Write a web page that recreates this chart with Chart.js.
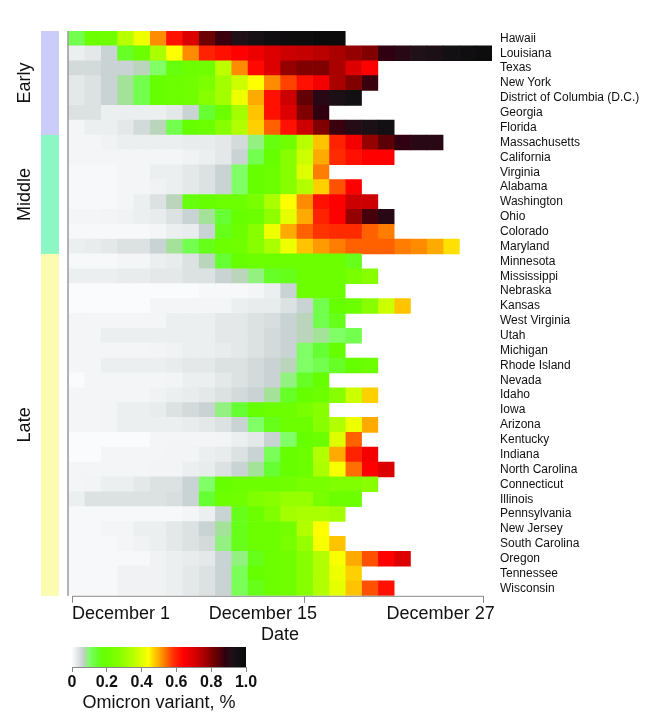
<!DOCTYPE html>
<html lang="en">
<head>
<meta charset="UTF-8">
<title>Omicron variant by state</title>
<script src="https://cdn.jsdelivr.net/npm/chart.js"></script>
<style>
  body { margin: 0; background: #fff; }
  #mapa { position: absolute; left: 0; top: 0; }
  #barra { position: absolute; left: 0; top: 640px; }
</style>
</head>
<body>
<canvas id="mapa" width="654" height="646"></canvas>
<canvas id="barra" width="300" height="84"></canvas>

<script>
// states, top to bottom
const states = ['Hawaii', 'Louisiana', 'Texas', 'New York', 'District of Columbia (D.C.)', 'Georgia', 'Florida',
  'Massachusetts', 'California', 'Virginia', 'Alabama', 'Washington', 'Ohio', 'Colorado', 'Maryland',
  'Minnesota', 'Mississippi', 'Nebraska', 'Kansas', 'West Virginia', 'Utah', 'Michigan', 'Rhode Island',
  'Nevada', 'Idaho', 'Iowa', 'Arizona', 'Kentucky', 'Indiana', 'North Carolina', 'Connecticut', 'Illinois',
  'Pennsylvania', 'New Jersey', 'South Carolina', 'Oregon', 'Tennessee', 'Wisconsin'];

const groups = ['Early', 'Middle', 'Late'];
const groupSizes = [7, 8, 23];

// omicron share per day, one row per state
const earlyRows = [
  [0.12, 0.2, 0.22, 0.35, 0.42, 0.52, 0.62, 0.7, 0.82, 0.87, 0.92, 0.94, 0.96, 0.97, 0.97, 0.98, 0.98],
  [0.02, 0.03, 0.06, 0.15, 0.2, 0.33, 0.44, 0.52, 0.6, 0.62, 0.64, 0.67, 0.7, 0.72, 0.73, 0.74, 0.76, 0.78, 0.8, 0.88, 0.9, 0.92, 0.93, 0.95, 0.96, 0.97],
  [0.05, 0.05, 0.06, 0.06, 0.07, 0.1, 0.17, 0.2, 0.22, 0.36, 0.52, 0.63, 0.7, 0.78, 0.8, 0.8, 0.76, 0.7, 0.64],
  [0.03, 0.04, 0.06, 0.08, 0.12, 0.18, 0.2, 0.22, 0.25, 0.32, 0.38, 0.44, 0.52, 0.57, 0.62, 0.66, 0.76, 0.8, 0.87],
  [0.03, 0.04, 0.06, 0.08, 0.12, 0.18, 0.2, 0.22, 0.28, 0.32, 0.42, 0.5, 0.62, 0.72, 0.83, 0.9, 0.93, 0.95],
  [0.04, 0.04, 0.02, 0.02, 0.02, 0.02, 0.03, 0.06, 0.14, 0.2, 0.32, 0.48, 0.62, 0.7, 0.8, 0.88],
  [0.01, 0.02, 0.02, 0.03, 0.05, 0.07, 0.12, 0.18, 0.2, 0.28, 0.34, 0.47, 0.55, 0.62, 0.72, 0.8, 0.87, 0.91, 0.93, 0.95]
];
const middleRows = [
  [0.01, 0.01, 0.015, 0.02, 0.02, 0.02, 0.02, 0.025, 0.025, 0.03, 0.05, 0.09, 0.17, 0.22, 0.35, 0.48, 0.6, 0.66, 0.78, 0.84, 0.88, 0.9, 0.9],
  [0.01, 0.01, 0.01, 0.01, 0.01, 0.01, 0.01, 0.015, 0.02, 0.03, 0.06, 0.12, 0.18, 0.28, 0.38, 0.5, 0.59, 0.62, 0.64, 0.64],
  [0.005, 0.005, 0.005, 0.01, 0.01, 0.02, 0.02, 0.03, 0.04, 0.06, 0.1, 0.18, 0.2, 0.28, 0.4, 0.53],
  [0.005, 0.005, 0.005, 0.01, 0.01, 0.015, 0.02, 0.03, 0.04, 0.06, 0.1, 0.18, 0.2, 0.28, 0.34, 0.47, 0.56, 0.64],
  [0.005, 0.005, 0.005, 0.01, 0.02, 0.04, 0.07, 0.17, 0.18, 0.2, 0.2, 0.24, 0.33, 0.44, 0.52, 0.62, 0.64, 0.72, 0.72],
  [0.01, 0.01, 0.012, 0.015, 0.02, 0.025, 0.04, 0.06, 0.08, 0.14, 0.18, 0.2, 0.29, 0.41, 0.5, 0.6, 0.64, 0.78, 0.86, 0.9],
  [0.005, 0.005, 0.005, 0.005, 0.005, 0.01, 0.02, 0.025, 0.06, 0.16, 0.2, 0.28, 0.42, 0.5, 0.55, 0.58, 0.59, 0.59, 0.55, 0.53],
  [0.02, 0.025, 0.03, 0.04, 0.04, 0.06, 0.08, 0.12, 0.16, 0.2, 0.22, 0.28, 0.33, 0.42, 0.48, 0.51, 0.53, 0.55, 0.55, 0.55, 0.53, 0.52, 0.5, 0.46]
];
const lateRows = [
  [0.005, 0.005, 0.005, 0.01, 0.01, 0.02, 0.025, 0.04, 0.07, 0.14, 0.18, 0.2, 0.2, 0.2, 0.2, 0.2, 0.2, 0.16],
  [0.02, 0.02, 0.02, 0.025, 0.025, 0.03, 0.03, 0.04, 0.04, 0.06, 0.07, 0.09, 0.15, 0.16, 0.2, 0.2, 0.2, 0.24, 0.28],
  [0, 0, 0, 0, 0, 0, 0, 0, 0.005, 0.005, 0.005, 0.01, 0.02, 0.06, 0.2, 0.2, 0.2],
  [0, 0, 0, 0, 0, 0.01, 0.01, 0.01, 0.01, 0.01, 0.02, 0.025, 0.025, 0.04, 0.06, 0.12, 0.18, 0.2, 0.28, 0.38, 0.48],
  [0.01, 0.01, 0.01, 0.01, 0.01, 0.01, 0.02, 0.02, 0.02, 0.03, 0.03, 0.04, 0.045, 0.06, 0.07, 0.12, 0.16],
  [0.01, 0.01, 0.02, 0.02, 0.02, 0.02, 0.02, 0.02, 0.02, 0.03, 0.03, 0.04, 0.05, 0.06, 0.07, 0.08, 0.1, 0.12],
  [0.01, 0.01, 0.01, 0.01, 0.01, 0.012, 0.015, 0.02, 0.02, 0.025, 0.03, 0.04, 0.05, 0.06, 0.1, 0.14, 0.18],
  [0.01, 0.01, 0.02, 0.02, 0.02, 0.02, 0.025, 0.03, 0.03, 0.04, 0.04, 0.05, 0.06, 0.07, 0.1, 0.12, 0.15, 0.18, 0.2],
  [0, 0.01, 0.01, 0.01, 0.01, 0.01, 0.012, 0.02, 0.02, 0.03, 0.04, 0.05, 0.06, 0.09, 0.15, 0.18],
  [0.01, 0.01, 0.01, 0.01, 0.01, 0.015, 0.02, 0.025, 0.03, 0.04, 0.05, 0.06, 0.08, 0.15, 0.18, 0.2, 0.28, 0.38, 0.47],
  [0.01, 0.01, 0.012, 0.02, 0.02, 0.025, 0.04, 0.05, 0.06, 0.09, 0.14, 0.18, 0.2, 0.2, 0.24, 0.28],
  [0.01, 0.01, 0.012, 0.02, 0.02, 0.02, 0.02, 0.025, 0.03, 0.04, 0.06, 0.1, 0.16, 0.2, 0.2, 0.28, 0.34, 0.42, 0.5],
  [0, 0, 0, 0, 0, 0.01, 0.01, 0.01, 0.01, 0.012, 0.02, 0.03, 0.06, 0.1, 0.18, 0.2, 0.4, 0.55],
  [0, 0, 0.01, 0.01, 0.01, 0.01, 0.012, 0.012, 0.02, 0.025, 0.04, 0.06, 0.11, 0.18, 0.2, 0.34, 0.5, 0.6, 0.66],
  [0.01, 0.01, 0.01, 0.01, 0.01, 0.012, 0.012, 0.02, 0.025, 0.04, 0.06, 0.08, 0.14, 0.18, 0.2, 0.33, 0.43, 0.54, 0.64, 0.7],
  [0.01, 0.012, 0.02, 0.02, 0.03, 0.04, 0.04, 0.06, 0.1, 0.18, 0.2, 0.2, 0.2, 0.22, 0.24, 0.24, 0.26, 0.26, 0.28],
  [0.02, 0.04, 0.04, 0.04, 0.04, 0.04, 0.045, 0.06, 0.14, 0.2, 0.22, 0.26, 0.28, 0.3, 0.3, 0.24, 0.2, 0.2],
  [0.005, 0.005, 0.005, 0.005, 0.005, 0.005, 0.005, 0.01, 0.02, 0.06, 0.16, 0.2, 0.26, 0.32, 0.33, 0.33, 0.32],
  [0.005, 0.005, 0.01, 0.01, 0.02, 0.02, 0.03, 0.04, 0.06, 0.08, 0.16, 0.2, 0.2, 0.23, 0.34, 0.44],
  [0.005, 0.005, 0.005, 0.01, 0.015, 0.02, 0.03, 0.04, 0.05, 0.09, 0.16, 0.2, 0.2, 0.24, 0.3, 0.43, 0.48],
  [0.005, 0.005, 0.005, 0.005, 0.005, 0.015, 0.02, 0.025, 0.03, 0.06, 0.09, 0.16, 0.2, 0.22, 0.28, 0.34, 0.43, 0.5, 0.56, 0.64, 0.7],
  [0.005, 0.005, 0.005, 0.015, 0.015, 0.015, 0.02, 0.03, 0.04, 0.06, 0.11, 0.18, 0.2, 0.22, 0.28, 0.34, 0.42, 0.47],
  [0.005, 0.005, 0.005, 0.015, 0.015, 0.015, 0.02, 0.03, 0.04, 0.06, 0.11, 0.16, 0.2, 0.22, 0.28, 0.34, 0.41, 0.48, 0.56, 0.62]
];

const nDays = 26;
const dateTicks = ['December 1', 'December 15', 'December 27'];
const dateTickPos = [0.25, 14.5, 25.45];     // where the tick marks sit (day units)
const dateLabelPos = [3.25, 11.95, 22.85];   // where the labels are centred
const scaleTicks = [0, 0.2, 0.4, 0.6, 0.8, 1.0];

// colour ramp: grey -> green -> yellow -> orange -> red -> black
const rampa = [
  [0.00, '#fafbfc'], [0.02, '#eceff0'], [0.04, '#dce1e1'], [0.065, '#c6cfcf'],
  [0.08, '#a4e29a'], [0.10, '#80ff66'], [0.14, '#66ff33'], [0.18, '#66ff00'],
  [0.22, '#70ff00'], [0.28, '#88ff00'], [0.33, '#aaff00'], [0.38, '#ccff00'],
  [0.42, '#eeff00'], [0.44, '#ffff00'], [0.47, '#ffd000'], [0.50, '#ffaa00'],
  [0.52, '#ff8c00'], [0.55, '#ff6000'], [0.58, '#ff3300'], [0.62, '#ff1000'],
  [0.64, '#ff0000'], [0.70, '#dd0000'], [0.76, '#aa0000'], [0.80, '#800000'],
  [0.85, '#500008'], [0.88, '#300010'], [0.92, '#201018'], [0.95, '#121012'],
  [1.00, '#080808']
];

function hexRgb(h) {
  return [parseInt(h.substr(1, 2), 16), parseInt(h.substr(3, 2), 16), parseInt(h.substr(5, 2), 16)];
}

function colorFor(v) {
  for (let i = 1; i < rampa.length; i++) {
    if (v <= rampa[i][0]) {
      const a = rampa[i - 1], b = rampa[i];
      const t = (v - a[0]) / (b[0] - a[0]);
      const ca = hexRgb(a[1]), cb = hexRgb(b[1]);
      const c = ca.map((x, k) => Math.round(x + (cb[k] - x) * t));
      return 'rgb(' + c.join(',') + ')';
    }
  }
  return rampa[rampa.length - 1][1];
}

Chart.defaults.font.family = 'Arial, "Liberation Sans", sans-serif';
Chart.defaults.color = '#111';

const rows = earlyRows.concat(middleRows, lateRows);

// one stacked dataset per day, each cell is a bar of length 1
const datasets = [];
for (let d = 0; d < nDays; d++) {
  datasets.push({
    label: 'day ' + (d + 1),
    data: rows.map(r => d < r.length ? 1 : null),
    backgroundColor: rows.map(r => d < r.length ? colorFor(r[d]) : 'rgba(0,0,0,0)'),
    borderWidth: 0,
    barPercentage: 1,
    categoryPercentage: 1
  });
}

const extras = {
  id: 'extras',
  afterDraw(chart) {
    const { ctx, chartArea: a, scales } = chart;
    const x = scales.x, y = scales.y;
    const rowH = y.getPixelForValue(1) - y.getPixelForValue(0);
    ctx.save();
    // left frame line
    ctx.strokeStyle = '#9a9a9a';
    ctx.lineWidth = 1.5;
    ctx.beginPath();
    ctx.moveTo(a.left, a.top);
    ctx.lineTo(a.left, a.bottom);
    ctx.stroke();
    // date axis line only between first and last tick
    ctx.strokeStyle = '#8a8a8a';
    ctx.lineWidth = 1;
    ctx.beginPath();
    ctx.moveTo(x.getPixelForValue(dateTickPos[0]), a.bottom + 0.5);
    ctx.lineTo(x.getPixelForValue(dateTickPos[dateTickPos.length - 1]), a.bottom + 0.5);
    ctx.stroke();
    // group strips
    const colores = ['#ccccf8', '#8cf7c4', '#fbfcb0'];
    let start = 0;
    groups.forEach((g, i) => {
      const end = start + groupSizes[i] - 1;
      const top = y.getPixelForValue(start) - rowH / 2;
      const bottom = y.getPixelForValue(end) + rowH / 2;
      ctx.fillStyle = colores[i];
      ctx.fillRect(41, top, 18, bottom - top);
      ctx.save();
      ctx.translate(25, (top + bottom) / 2);
      ctx.rotate(-Math.PI / 2);
      ctx.fillStyle = '#111';
      ctx.font = '18px Arial, "Liberation Sans", sans-serif';
      ctx.textAlign = 'center';
      ctx.textBaseline = 'middle';
      ctx.fillText(g, 0, 0);
      ctx.restore();
      start = end + 1;
    });
    ctx.restore();
  }
};

new Chart(document.getElementById('mapa'), {
  type: 'bar',
  data: { labels: states, datasets: datasets },
  plugins: [extras],
  options: {
    indexAxis: 'y',
    responsive: false,
    animation: false,
    layout: { padding: { left: 68, top: 31, right: 0, bottom: 0 } },
    plugins: { legend: { display: false }, tooltip: { enabled: false } },
    scales: {
      y: {
        type: 'category',
        position: 'right',
        stacked: true,
        offset: true,
        grid: { display: false, drawTicks: false },
        border: { display: false },
        ticks: { font: { size: 12 }, color: '#111', padding: 8, autoSkip: false },
        afterFit: s => { s.width = 162; }
      },
      x: {
        type: 'linear',
        position: 'bottom',
        stacked: true,
        min: 0,
        max: nDays,
        weight: 0,
        afterBuildTicks: s => { s.ticks = dateTickPos.map(v => ({ value: v })); },
        grid: { display: true, drawOnChartArea: false, drawTicks: true, tickLength: 7, color: '#8a8a8a' },
        border: { display: false },
        ticks: { display: false }
      },
      x2: {
        type: 'linear',
        position: 'bottom',
        min: 0,
        max: nDays,
        weight: 1,
        afterBuildTicks: s => { s.ticks = dateLabelPos.map(v => ({ value: v })); },
        grid: { display: false, drawTicks: false },
        border: { display: false },
        ticks: {
          autoSkip: false, maxRotation: 0, padding: 0,
          font: { size: 18 }, color: '#111',
          callback: (v, i) => dateTicks[i]
        },
        title: { display: true, text: 'Date', font: { size: 18 }, color: '#111', padding: 0 }
      }
    }
  }
});

// colour bar legend
const gradiente = {
  id: 'gradiente',
  beforeDatasetsDraw(chart) {
    const { ctx, chartArea: a } = chart;
    const g = ctx.createLinearGradient(a.left, 0, a.right, 0);
    rampa.forEach(s => g.addColorStop(s[0], s[1]));
    ctx.fillStyle = g;
    ctx.fillRect(a.left, a.top, a.right - a.left, a.bottom - a.top);
  }
};

new Chart(document.getElementById('barra'), {
  type: 'scatter',
  data: { datasets: [{ data: [] }] },
  plugins: [gradiente],
  options: {
    responsive: false,
    animation: false,
    layout: { padding: { left: 72, right: 54, top: 7, bottom: 10 } },
    plugins: { legend: { display: false }, tooltip: { enabled: false } },
    scales: {
      x: {
        type: 'linear',
        min: 0,
        max: 1,
        afterBuildTicks: s => { s.ticks = scaleTicks.map(v => ({ value: v })); },
        afterFit: s => { s.height = 47; },
        grid: { drawOnChartArea: false, tickLength: 5, color: '#888' },
        border: { color: '#888' },
        ticks: {
          padding: 1, maxRotation: 0, autoSkip: false,
          font: { size: 16, weight: 'bold' }, color: '#111',
          callback: v => v === 0 ? '0' : v.toFixed(1)
        },
        title: { display: true, text: 'Omicron variant, %', font: { size: 18 }, color: '#111', padding: 0 }
      },
      y: { display: false, min: 0, max: 1 }
    }
  }
});
</script>
</body>
</html>
